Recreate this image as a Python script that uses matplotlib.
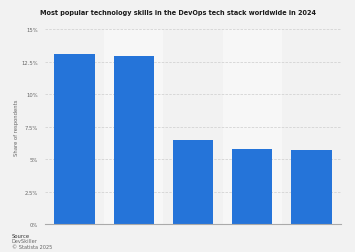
import numpy as np
import matplotlib.pyplot as plt

# data (share of respondents, %)
skills = ["Skill 1", "Skill 2", "Skill 3", "Skill 4", "Skill 5"]
shares = [13.1, 12.95, 6.5, 5.8, 5.7]
yticks = [0, 2.5, 5, 7.5, 10, 12.5, 15]
ytick_labels = ["0%", "2.5%", "5%", "7.5%", "10%", "12.5%", "15%"]

BG = "#f2f2f2"
BAND = "#f7f7f7"
BAR = "#2574d9"
TXT = "#666666"

fig = plt.figure(figsize=(3.55, 2.53), dpi=100, facecolor=BG)
ax = fig.add_axes([45 / 355, 1 - 225.3 / 253, 296 / 355, 195 / 253])
ax.set_facecolor(BG)

x = np.arange(len(skills))

# alternating column bands
for i in x:
    if i % 2 == 1:
        ax.axvspan(i - 0.5, i + 0.5, color=BAND, zorder=0, lw=0)

for yt in yticks[1:]:
    ax.axhline(yt, color="#d4d4d4", lw=0.6, ls=(0, (3, 1.5)), zorder=1)

ax.bar(x, shares, width=0.68, color=BAR, zorder=2)

ax.set_xlim(-0.5, len(skills) - 0.5)
ax.set_ylim(0, 15)
ax.set_xticks(x)
ax.set_xticklabels([])
ax.tick_params(axis="x", length=0)
ax.set_yticks(yticks)
ax.set_yticklabels(ytick_labels, fontsize=3.8, color=TXT)
ax.tick_params(axis="y", length=0, pad=5)

for s in ["top", "right", "left"]:
    ax.spines[s].set_visible(False)
ax.spines["bottom"].set_color("#aaaaaa")
ax.spines["bottom"].set_linewidth(0.8)

ax.set_ylabel("Share of respondents", fontsize=3.8, color=TXT)
ax.yaxis.set_label_coords(-26 / 296, 0.5)

fig.text(178 / 355, 1 - 12.5 / 253,
         "Most popular technology skills in the DevOps tech stack worldwide in 2024",
         ha="center", va="center", fontsize=4.7, fontweight="bold", color="#1a1a1a")

fig.text(12 / 355, 1 - 236 / 253, "Source", fontsize=3.8, color="#333333", va="center")
fig.text(12 / 355, 1 - 241.8 / 253, "DevSkiller", fontsize=3.6, color=TXT, va="center")
fig.text(12 / 355, 1 - 247.5 / 253, "© Statista 2025", fontsize=3.6, color=TXT, va="center")

fig.savefig("out.png", dpi=100, facecolor=BG)
